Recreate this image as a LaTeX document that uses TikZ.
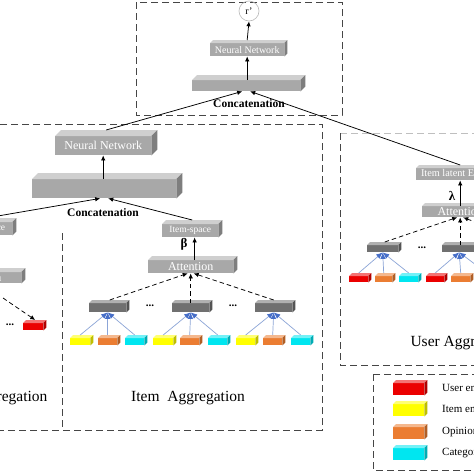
\documentclass[tikz,border=0pt]{standalone}
\usepackage{fontspec}
\setmainfont{Liberation Serif}
\usetikzlibrary{arrows.meta}
\definecolor{bgrey}{RGB}{168,168,168}
\definecolor{dgrey}{RGB}{112,112,112}
\definecolor{ured}{RGB}{235,0,0}
\definecolor{iyel}{RGB}{255,255,0}
\definecolor{oora}{RGB}{235,125,50}
\definecolor{ccya}{RGB}{0,230,240}
\definecolor{arrblue}{RGB}{70,110,200}
\definecolor{lineblue}{RGB}{140,165,215}
\definecolor{boxline}{RGB}{70,70,70}
\newcommand\cubeit[3]{%
 \fill[#3!55!white] (#1.north west) -- ++(#2,-#2) -- ([shift={(#2,-#2)}]#1.north east) -- (#1.north east) -- cycle;
 \fill[#3!75!black] (#1.north east) -- ++(#2,-#2) -- ([shift={(#2,-#2)}]#1.south east) -- (#1.south east) -- cycle;}
\newcommand\blk[8]{%
 \node[blkst, fill=#6, minimum width={(#4-#2)*1pt}, minimum height={(#5-#3)*1pt}] (#1) at (#2,#3) {#8};
 \cubeit{#1}{#7}{#6}}
\tikzset{
 blkst/.style={inner sep=0pt, anchor=north west, text=white, draw=none},
 arr/.style={-{Latex[length=5pt,width=4.5pt]}, line width=0.75pt, black},
 darr/.style={arr, dash pattern=on 4.5pt off 3pt},
 barr/.style={draw=lineblue, line width=0.7pt, -{Latex[length=6.5pt,width=5.5pt,color=arrblue]}},
 dbox/.style={draw=boxline, line width=1pt, dash pattern=on 7pt off 4pt},
 lbl/.style={font=\fontsize{11.5}{12}\selectfont\bfseries},
 dots/.style={font=\fontsize{11}{11}\selectfont\bfseries, inner sep=0pt},
 agg/.style={font=\fontsize{15.5}{16}\selectfont},
 leg/.style={anchor=west, inner sep=0pt, font=\fontsize{11}{11}\selectfont},
 greek/.style={font=\fontsize{13}{13}\selectfont\bfseries, inner sep=0pt},
}
\begin{document}
\begin{tikzpicture}[x=1pt,y=-1pt]
\useasboundingbox (0,0) rectangle (474,474);
\clip (0,0) rectangle (474,474);
\fill[white] (0,0) rectangle (474,474);
% dashed frames
\draw[dbox] (136,2) rectangle (342,115);
\draw[dbox] (-5,124) rectangle (322,430);
\draw[dbox] (62,233) -- (62,430);
\draw[dbox, draw=gray!50] (340,133) -- (495,133);
\draw[dbox] (340,133) -- (340,365) -- (495,365);
\draw[dbox] (373,374) rectangle (495,470);
% top part
\node[circle, draw=gray!55, line width=0.6pt, minimum size=20pt, inner sep=0pt, font=\fontsize{10}{10}\selectfont] (r) at (249,11) {r'};
\blk{tnn}{210}{43}{284}{56}{bgrey}{3}{\fontsize{10}{10}\selectfont Neural Network}
\blk{tcat}{192}{80}{300}{91}{bgrey}{5}{}
\node[lbl] (tcl) at (249,104) {Concatenation};
% item aggregation
\blk{inn}{55}{136}{151}{155}{bgrey}{6}{\fontsize{12}{12}\selectfont Neural Network}
\blk{icat}{32}{179}{176}{198}{bgrey}{6}{}
\node[lbl] (icl) at (103,213) {Concatenation};
\blk{isp}{162}{224}{218}{237}{bgrey}{4}{\fontsize{9.5}{9.5}\selectfont Item-space}
\blk{usp}{-44}{222}{12}{235}{bgrey}{4}{\fontsize{9.5}{9.5}\selectfont User-space}
\blk{iatt}{148}{260}{233}{273}{bgrey}{4}{\fontsize{12}{12}\selectfont Attention}
\blk{uatt}{-64}{272}{21}{283}{bgrey}{4}{\fontsize{12}{12}\selectfont Attention}
\node[greek] (beta) at (184,244) {β};
\blk{m1}{89}{303}{126}{312}{dgrey}{3}{}
\blk{m2}{172}{303}{209}{312}{dgrey}{3}{}
\blk{m3}{255}{303}{292}{312}{dgrey}{3}{}
\node[dots] (d1) at (150,306) {...};
\node[dots] (d2) at (233,306) {...};
\blk{a1}{70}{338}{90}{345}{iyel}{3}{}
\blk{a2}{98}{338}{117}{345}{oora}{3}{}
\blk{a3}{125}{338}{144}{345}{ccya}{3}{}
\blk{b1}{153}{338}{173}{345}{iyel}{3}{}
\blk{b2}{180}{338}{199}{345}{oora}{3}{}
\blk{b3}{208}{338}{227}{345}{ccya}{3}{}
\blk{c1}{236}{338}{255}{345}{iyel}{3}{}
\blk{c2}{263}{338}{282}{345}{oora}{3}{}
\blk{c3}{291}{338}{310}{345}{ccya}{3}{}
\blk{lr}{23}{323}{43}{330}{ured}{3}{}
\node[dots] (d0) at (10,325) {...};
\coordinate (lstart) at (3,298);
\node[agg, anchor=east] (uaggl) at (51,398) {User Aggregation};
\node[agg] (iagg) at (188,398) {Item \ Aggregation};
% user aggregation (right)
\blk{ilat}{416}{168}{520}{180}{bgrey}{3}{\fontsize{10.3}{10.3}\selectfont Item latent Embedding}
\blk{ratt}{422}{206}{498}{217}{bgrey}{3}{\fontsize{12}{12}\selectfont Attention}
\node[greek] (lam) at (452,196) {λ};
\blk{rm1}{367}{245}{398}{252}{dgrey}{3}{}
\blk{rm2}{442}{245}{476}{252}{dgrey}{3}{}
\blk{rm3}{517}{245}{551}{252}{dgrey}{3}{}
\node[dots] (d3) at (422,248) {...};
\blk{r1}{349}{276}{368}{282}{ured}{3}{}
\blk{r2}{375}{276}{392}{282}{oora}{3}{}
\blk{r3}{399}{276}{418}{282}{ccya}{3}{}
\blk{r4}{426}{276}{444}{282}{ured}{3}{}
\blk{r5}{451}{276}{470}{282}{oora}{3}{}
\blk{r6}{477}{276}{496}{282}{ccya}{3}{}
\node[agg, anchor=west] (uagg) at (407,343) {User Aggregation};
% legend
\blk{g1}{393}{383}{424}{395}{ured}{3}{}
\blk{g2}{393}{404}{424}{416}{iyel}{3}{}
\blk{g3}{393}{427}{424}{439}{oora}{3}{}
\blk{g4}{393}{448}{424}{460}{ccya}{3}{}
\node[leg] (t1) at (442,389) {User embedding};
\node[leg] (t2) at (442,410) {Item embedding};
\node[leg] (t3) at (442,432) {Opinion embedding};
\node[leg] (t4) at (442,453) {Category embedding};
% connectors top
\draw[arr] ([yshift=3pt]tnn.north) -- (r.south);
\draw[arr] (tcat.north -| tnn.north) -- (tnn.south);
\draw[arr] ([shift={(3,-6)}]inn.north) -- ([xshift=-4pt]tcat.south);
\draw[arr] ([shift={(-8,-3)}]ilat.north) -- ([xshift=4pt]tcat.south);
% connectors item
\draw[arr] (icat.north -| inn.south) -- (inn.south);
\draw[arr] ([shift={(2,-4)}]usp.north) -- ([xshift=-4pt]icat.south);
\draw[arr] ([shift={(2,-4)}]isp.north) -- ([xshift=4pt]icat.south);
\draw[arr] ([xshift=7pt]iatt.north -| beta.east) -- ([xshift=7pt]isp.south -| beta.east);
\draw[darr] ([shift={(2,-3)}]m1.north) -- ([xshift=-3pt]iatt.south);
\draw[darr] (m2.north) -- (iatt.south);
\draw[darr] ([shift={(0,-3)}]m3.north) -- ([xshift=3pt]iatt.south);
\draw[darr] (lstart) -- ([shift={(2,-3)}]lr.north);
\foreach \s/\t in {a1/m1,a2/m1,a3/m1,b1/m2,b2/m2,b3/m2,c1/m3,c2/m3,c3/m3,r1/rm1,r2/rm1,r3/rm1,r4/rm2,r5/rm2,r6/rm2}
  \draw[barr] ([yshift=3pt]\s.north) -- (\t.south);
% connectors user
\draw[arr] (ratt.north) -- (ilat.south -| ratt.north);
\draw[darr] ([shift={(2,-3)}]rm1.north) -- ([xshift=-3pt]ratt.south);
\draw[darr] (rm2.north -| ratt.south) -- (ratt.south);
\draw[darr] (rm3.north) -- ([xshift=3pt]ratt.south);
\end{tikzpicture}
\end{document}
